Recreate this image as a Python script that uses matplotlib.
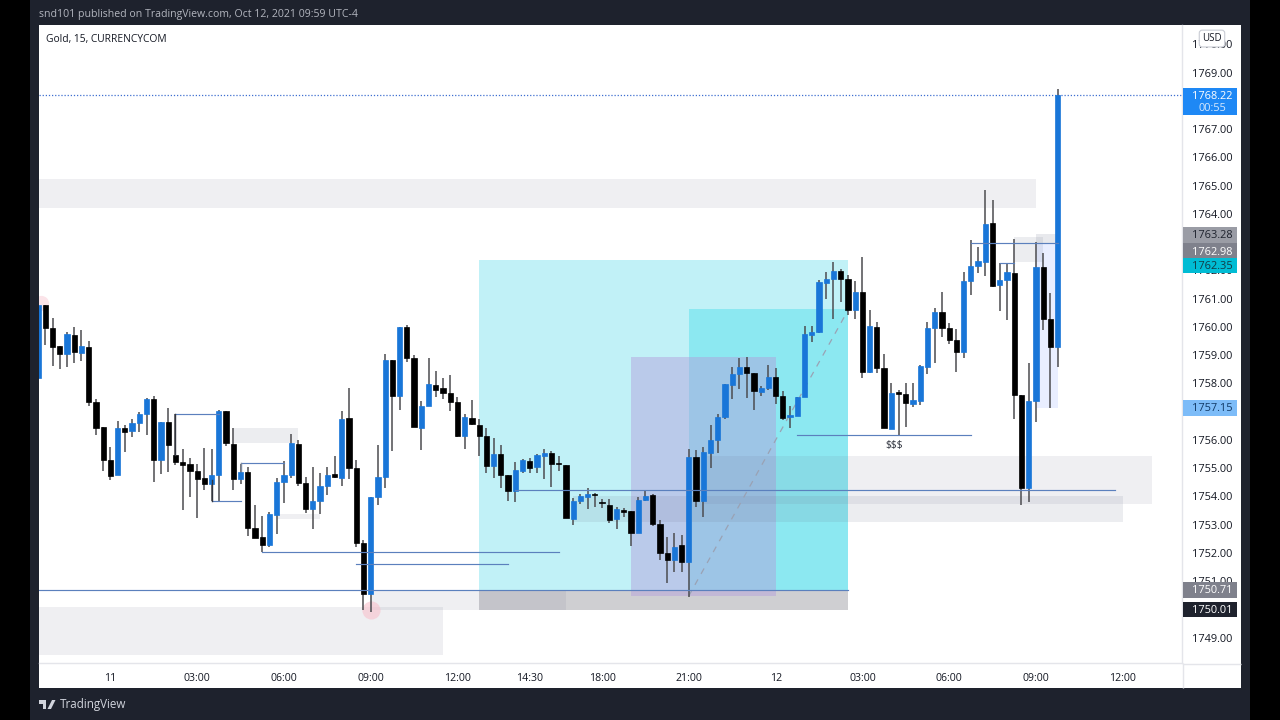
import matplotlib
matplotlib.use("Agg")
import matplotlib.pyplot as plt
from matplotlib.patches import Rectangle, Polygon
from matplotlib.lines import Line2D

# ---------- data (OHLC of each 15 minute bar, first one is cut by the left edge) ----------
tops = [1760.79,1760.79,1759.96,1759.34,1759.76,1759.74,1759.34,1759.31,1757.37,1756.46,1755.30,1756.42,1756.42,1756.60,1756.95,1757.45,1757.45,1756.65,1756.66,1755.49,1755.23,1755.17,1754.90,1754.65,1754.79,1757.04,1757.04,1755.88,1754.88,1754.89,1752.90,1752.57,1753.41,1754.52,1754.77,1755.89,1755.88,1754.48,1753.85,1754.39,1754.79,1754.81,1756.77,1756.78,1755.03,
        1752.37,1754.00,1754.69,1758.84,1758.84,1760.02,1760.02,1758.90,1757.22,1757.99,1757.97,1757.84,1757.66,1757.34,1756.83,1756.80,1756.56,1756.17,1755.52,1755.52,1754.79,1754.95,1755.29,1755.28,1755.47,1755.56,1755.56,1755.19,1755.14,1753.86,1754.03,1754.10,1754.10,1753.83,1753.71,1753.58,1753.55,1753.50,1753.90,1754.03,1754.05,1753.04,1752.01,1752.23,1752.28,1755.42,
        1755.41,1755.57,1756.01,1756.84,1757.98,1758.34,1758.58,1758.59,1758.39,1757.84,1758.24,1758.24,1757.58,1756.91,1757.53,1759.75,1759.85,1761.59,1761.72,1762.00,1762.00,1761.72,1761.26,1761.25,1760.05,1760.02,1758.56,1757.66,1757.70,1757.63,1757.43,1758.63,1759.96,1760.55,1760.54,1759.96,1759.55,
        1761.64,1762.18,1762.33,1763.65,1763.68,1761.67,1761.95,1761.94,1757.61,1757.40,1762.13,1762.13,1760.28,1768.23]
bottoms = [1758.19,1759.96,1759.31,1759.04,1759.04,1759.11,1759.10,1757.34,1756.43,1755.30,1754.75,1754.76,1756.29,1756.32,1756.60,1756.95,1755.29,1755.29,1755.83,1755.23,1755.14,1754.92,1754.64,1754.46,1754.46,1754.76,1755.89,1754.64,1754.63,1752.90,1752.53,1752.31,1752.29,1753.37,1754.51,1754.76,1754.49,1753.57,1753.57,1753.86,1754.39,1754.71,1754.67,1755.02,1752.35,
           1750.56,1750.56,1753.98,1754.69,1757.57,1757.58,1758.90,1756.46,1756.44,1757.22,1757.78,1757.66,1757.34,1756.16,1756.16,1756.57,1756.16,1755.09,1755.09,1754.78,1754.20,1754.20,1754.90,1755.02,1755.04,1755.44,1755.18,1755.15,1753.25,1753.21,1753.85,1753.98,1754.05,1753.79,1753.19,1753.21,1753.47,1752.73,1752.73,1753.88,1753.04,1752.03,1751.76,1751.77,1751.71,1751.70,
           1753.86,1753.86,1755.56,1756.01,1756.82,1757.96,1758.34,1758.38,1757.73,1757.72,1757.84,1757.57,1756.78,1756.81,1756.87,1757.54,1759.74,1759.85,1761.58,1761.72,1761.72,1760.61,1760.61,1758.43,1758.42,1758.55,1756.42,1756.40,1757.64,1757.31,1757.30,1757.41,1758.59,1759.96,1759.98,1759.55,1759.11,
           1759.13,1761.64,1762.18,1762.32,1761.47,1761.49,1761.67,1757.62,1754.33,1754.31,1757.40,1760.28,1759.29,1759.31]
highs = [1761.00,1760.79,1760.32,1759.34,1759.85,1760.02,1759.90,1759.53,1757.45,1756.46,1755.77,1756.68,1756.54,1756.74,1757.01,1757.49,1757.57,1756.65,1757.15,1756.93,1755.68,1755.36,1755.18,1755.73,1755.70,1757.07,1757.04,1756.42,1755.18,1755.07,1753.71,1753.33,1753.47,1754.65,1755.28,1756.21,1756.03,1754.69,1755.07,1754.83,1755.07,1755.46,1757.03,1757.85,1755.30,
         1752.49,1754.00,1755.85,1759.04,1758.84,1760.02,1760.08,1759.02,1757.40,1758.92,1758.45,1758.19,1758.33,1757.52,1756.95,1757.42,1756.77,1756.44,1756.07,1755.85,1754.79,1755.22,1755.33,1755.38,1755.51,1755.68,1755.62,1755.44,1755.14,1753.97,1754.10,1754.33,1754.14,1753.94,1753.92,1753.65,1753.62,1753.50,1753.98,1754.26,1754.10,1753.18,1752.59,1752.73,1752.65,1755.68,
         1755.66,1755.77,1756.53,1756.95,1757.98,1758.61,1758.90,1758.94,1758.39,1757.93,1758.65,1758.55,1757.76,1757.23,1757.53,1760.06,1760.06,1761.67,1761.97,1762.32,1762.05,1761.85,1761.65,1762.50,1760.61,1760.20,1759.05,1758.02,1757.78,1758.02,1758.02,1758.67,1760.20,1760.67,1761.24,1760.14,1759.93,
         1761.97,1763.09,1762.85,1764.86,1764.50,1762.28,1762.28,1763.12,1757.61,1758.72,1763.03,1762.64,1761.20,1768.42]
lows = [1758.19,1759.37,1758.63,1758.51,1758.61,1758.75,1758.82,1757.23,1756.20,1754.92,1754.60,1754.76,1755.57,1756.13,1756.31,1756.19,1754.51,1754.81,1754.89,1755.13,1753.53,1754.00,1753.24,1754.26,1753.86,1753.86,1755.80,1754.24,1754.44,1752.62,1752.53,1752.05,1752.21,1752.68,1753.79,1754.65,1754.38,1753.44,1752.85,1753.39,1754.06,1754.65,1754.38,1754.62,1752.21,
        1749.99,1749.93,1753.71,1754.33,1755.62,1757.09,1758.78,1756.46,1755.65,1757.22,1757.54,1757.48,1757.05,1756.13,1755.71,1756.54,1755.45,1754.85,1754.65,1754.30,1753.84,1753.83,1754.85,1754.85,1754.85,1754.62,1754.36,1754.90,1753.24,1753.00,1753.74,1753.58,1753.65,1753.62,1753.09,1752.85,1753.29,1752.26,1752.73,1753.86,1752.96,1751.78,1750.96,1751.35,1751.35,1750.46,
        1753.65,1753.27,1755.01,1755.56,1756.75,1757.47,1757.82,1757.49,1757.07,1757.58,1757.78,1757.28,1756.72,1756.45,1756.87,1757.54,1759.47,1759.81,1761.00,1760.29,1760.91,1760.43,1760.28,1758.19,1758.37,1758.37,1756.42,1756.39,1756.19,1756.48,1757.19,1757.25,1758.35,1758.72,1759.67,1759.41,1758.41,
        1758.90,1761.14,1761.94,1761.82,1761.41,1760.57,1760.25,1756.75,1753.71,1753.82,1756.66,1759.90,1757.15,1758.58]
# bars that closed down (black); every other bar closed up (blue)
down_bars = [1,2,3,5,7,8,9,10,12,16,18,19,20,21,22,23,26,27,29,30,31,36,37,41,43,44,45,49,51,52,55,56,57,58,60,61,62,64,65,68,71,72,73,77,78,79,81,82,85,86,87,89,91,98,99,102,103,111,112,114,116,117,119,120,125,126,127,132,135,136,139,140]
time_ticks = [10, 22, 34, 46, 58, 68, 78, 90, 102, 114, 126, 138, 150]
time_labels = ["11","03:00","06:00","09:00","12:00","14:30","18:00","21:00","12","03:00","06:00","09:00","12:00"]
price_ticks = [1749,1751,1752,1753,1754,1755,1756,1757,1758,1759,1760,1761,1762,1764,1765,1766,1767,1769,1770]
tag_prices = [1763.28, 1762.98, 1762.35, 1757.15, 1750.71, 1750.01]
tag_slots = [1763.27, 1762.70, 1762.19, 1757.15, 1750.71, 1750.01]  # where each tag sits after the axis spreads them apart
tag_faces = ["#9a9ca5", "#7f818c", "#00bcd4", "#7dbcf8", "#7f818c", "#1e222d"]
tag_texts = ["#1e222d", "#ffffff", "#123a44", "#123a66", "#ffffff", "#ffffff"]
last_price = 1768.22
# zones: x0, x1, p0, p1 (bar, bar, price, price), colour, alpha
zones = [(0,138,1764.22,1765.25,"#6a6f8a",0.105),
         (0,56,1748.40,1750.10,"#6a6f8a",0.105),
         (61,112,1750.70,1762.38,"#8fe6f2",0.55),
         (90,112,1750.70,1760.65,"#3ddbe8",0.40),
         (61,112,1749.99,1750.70,"#cfcfd2",1.0),
         (46,73,1749.99,1750.70,"#6a6f8a",0.105),
         (82,102,1750.49,1758.95,"#b39ddb",0.46),
         (27,36,1755.90,1756.43,"#6a6f8a",0.12),
         (33,39,1753.20,1753.39,"#6a6f8a",0.105),
         (92,154,1753.74,1755.44,"#6a6f8a",0.105),
         (74,150,1753.11,1754.03,"#6a6f8a",0.12),
         (135,139,1762.30,1763.20,"#6a6f8a",0.12),
         (138,141,1763.00,1763.30,"#6a6f8a",0.15),
         (138,141,1757.15,1762.98,"#2962ff",0.10)]
# horizontal levels: price, from bar, to bar
levels = [(1750.71,0,112),(1754.23,66,149),(1752.04,31,72),(1751.62,44,65),(1756.93,19,25),
          (1755.19,28,34),(1753.85,24,28),(1756.19,105,129),(1763.00,129,141),(1762.27,133,135)]

W, H = 1280, 720
BLUE = "#1976d8"
plt.rcParams["font.family"] = ["Open Sans", "DejaVu Sans"]
fig = plt.figure(figsize=(W/100, H/100), dpi=100, facecolor="#1e222d")

def box(l, t, r, b):
    return [l/W, 1-b/H, (r-l)/W, (b-t)/H]

fig.add_artist(Rectangle((0,0), 30/W, 1, transform=fig.transFigure, fc="black", ec="none", zorder=-2))
fig.add_artist(Rectangle((1250/W,0), 30/W, 1, transform=fig.transFigure, fc="black", ec="none", zorder=-2))
fig.add_artist(Rectangle((39/W,1-688/H), 1202/W, 663/H, transform=fig.transFigure, fc="white", ec="none", zorder=-2))
SEP = "#e4e5ea"
fig.add_artist(Line2D([1182.5/W,1182.5/W],[1-688/H,1-663/H],transform=fig.transFigure,color=SEP,lw=1,solid_capstyle="butt"))
fig.add_artist(Line2D([1182.5/W,1241/W],[1-663.5/H,1-663.5/H],transform=fig.transFigure,color=SEP,lw=1,solid_capstyle="butt"))

ylim = (1748.12, 1770.70)
ax = fig.add_axes(box(39,25,1182,663), facecolor="none")
ax.set_xlim(0.129, 158.2)
ax.set_ylim(*ylim)

for x0,x1,p0,p1,c,a in zones:
    ax.add_patch(Rectangle((x0,p0), x1-x0, p1-p0, fc=c, ec="none", alpha=a, zorder=1))

for i,(t,b,h,l) in enumerate(zip(tops,bottoms,highs,lows)):
    col = "black" if i in down_bars else BLUE
    ax.plot([i,i],[l,h],color="#4c4c50",lw=1.1,zorder=3,solid_capstyle="butt")
    ax.add_patch(Rectangle((i-0.36,b),0.72,t-b,fc=col,ec=col,lw=0.5,zorder=4))

for p,x0,x1 in levels:
    ax.plot([x0,x1],[p,p],color="#5b80bd",lw=0.85,zorder=5)
ax.plot([19,19],[1755.49,1756.93],color="#33363f",lw=1,zorder=5)
ax.plot([28,28],[1754.9,1755.19],color="#7f8ba0",lw=1,zorder=5)
ax.plot([24,24],[1753.85,1754.6],color="#33363f",lw=1,zorder=5)
ax.plot([90,112],[1750.5,1760.6],color="#9aa2b4",lw=0.9,ls=(0,(5,5)),zorder=2)
ax.axhline(last_price,color="#3f6fd0",lw=0.9,ls=(0,(1,1.5)),zorder=2)
ax.scatter([46],[1749.99],s=170,color="#f8c4cf",alpha=0.65,zorder=2,linewidths=0)
ax.scatter([0.4],[1760.86],s=120,color="#f8c4cf",alpha=0.45,zorder=2,linewidths=0)
ax.text(118.4,1755.83,"$$$",ha="center",va="center",fontsize=7.5,color="#2a2e39",zorder=6)
ax.text(0.006,0.978,"Gold, 15, CURRENCYCOM",transform=ax.transAxes,ha="left",va="center",fontsize=7.4,color="#131722",zorder=6)

ax.set_xticks(time_ticks)
ax.set_xticklabels(time_labels,fontsize=7.6,color="#131722")
ax.set_yticks([])
ax.tick_params(axis="x",length=0,pad=7)
for s in ["top","left"]:
    ax.spines[s].set_visible(False)
for s in ["right","bottom"]:
    ax.spines[s].set_color(SEP)
    ax.spines[s].set_linewidth(1)

pax = fig.add_axes(box(1182,25,1241,663), facecolor="none")
pax.set_xlim(0,59)
pax.set_ylim(*ylim)
pax.set_xticks([]); pax.set_yticks([])
for s in pax.spines.values():
    s.set_visible(False)
nudge = 0.035
for p in price_ticks:
    pax.text(30,p-nudge,f"{p:.2f}",ha="center",va="center",fontsize=7.9,color="#131722",zorder=1)
unit_h = 7.9/28.25
for p,sl,f,tc in zip(tag_prices,tag_slots,tag_faces,tag_texts):
    pax.add_patch(Rectangle((1,sl-unit_h),54,2*unit_h,fc=f,ec="none",zorder=2))
    pax.text(30,sl-nudge,f"{p:.2f}",ha="center",va="center",fontsize=7.9,color=tc,zorder=3)
pax.add_patch(Rectangle((1,last_price-0.72),54,0.98,fc="#1e88f5",ec="none",zorder=2))
pax.text(30,last_price-nudge,f"{last_price:.2f}",ha="center",va="center",fontsize=7.9,color="white",zorder=3)
pax.text(30,last_price-0.47,"00:55",ha="center",va="center",fontsize=7.9,color="#d6e8fd",zorder=3)
pax.text(30,1770.22,"USD",ha="center",va="center",fontsize=7,color="#131722",zorder=3,
         bbox=dict(boxstyle="round,pad=0.3",fc="white",ec="#c9ccd4",lw=0.8))

fig.text(39/W,1-14.3/H,"snd101 published on TradingView.com, Oct 12, 2021 09:59 UTC-4",ha="left",va="center",fontsize=7.55,color="#b2b5be")
# TradingView logo
fig.add_artist(Rectangle((39/W,1-704/H),7/W,4/H,transform=fig.transFigure,fc="#d1d4dc",ec="none"))
fig.add_artist(Rectangle((42.5/W,1-709/H),3.5/W,6/H,transform=fig.transFigure,fc="#d1d4dc",ec="none"))
fig.add_artist(Polygon([(47.5/W,1-709/H),(51/W,1-709/H),(55.5/W,1-700/H),(52/W,1-700/H)],transform=fig.transFigure,fc="#d1d4dc",ec="none"))
fig.text(60/W,1-704.5/H,"TradingView",ha="left",va="center",fontsize=8.4,color="#d1d4dc")

fig.savefig("out.png",dpi=100,facecolor=fig.get_facecolor())
